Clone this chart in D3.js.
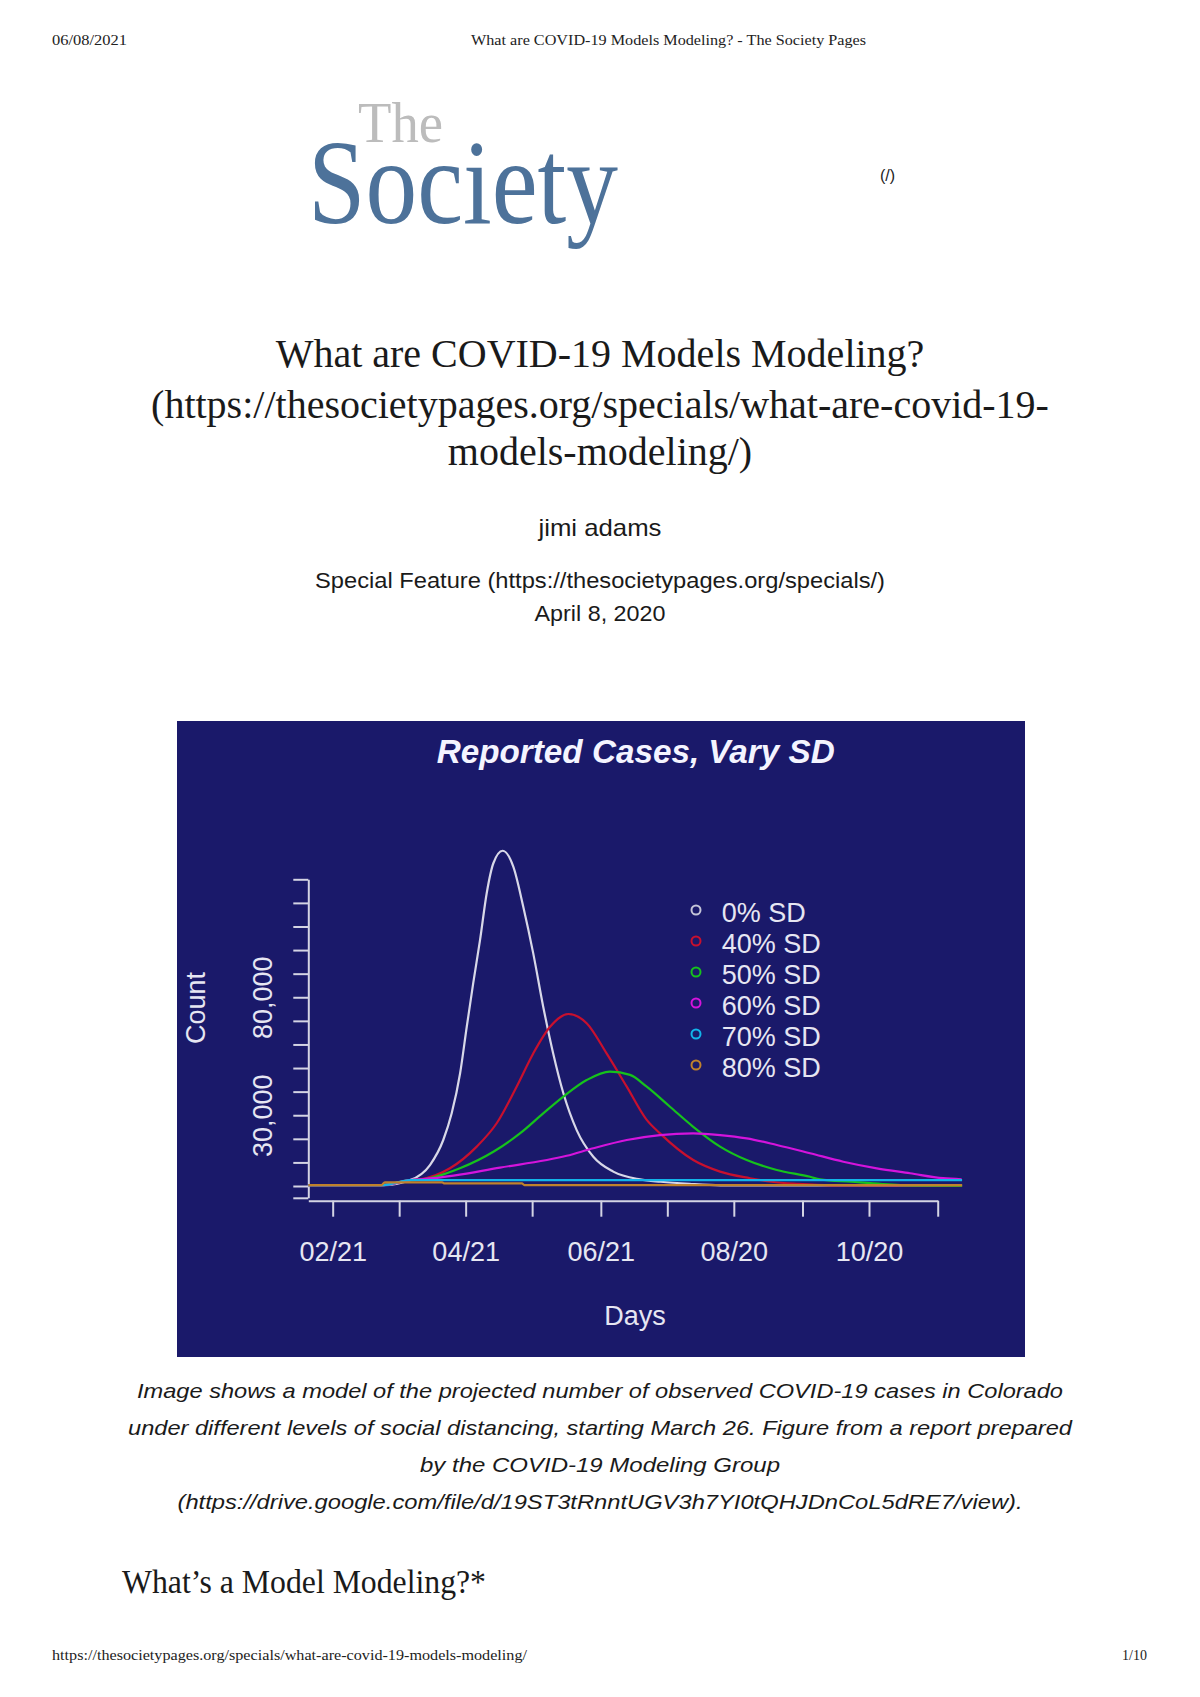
<!DOCTYPE html>
<html>
<head>
<meta charset="utf-8">
<script src="https://cdn.jsdelivr.net/npm/d3@7"></script>
<style>
	body { margin: 0; background: #ffffff; }
	svg { display: block; }
</style>
</head>
<body>
<div id="page"></div>
<script>
// days are counted from 02/21/2020, counts are reported cases
var sd0Days = [-11, 22.7, 34.9, 43.9, 49.9, 53.7, 57.5, 60.5, 63.4, 66.5, 69.5, 72.5, 76.7, 81.5, 86.0, 90.5, 95.0, 99.5, 104.1, 110.1, 117.6, 126.6, 138.7, 148, 161, 175, 284];
var sd0Counts = [400, 400, 2500, 8900, 19500, 30800, 47800, 67500, 85900, 104300, 124100, 136800, 142100, 135400, 118400, 98600, 76000, 56200, 39300, 23700, 12400, 6100, 2800, 1800, 900, 300, 200];

var sd40Days = [-11, 22.7, 34.9, 39.4, 52.9, 65.0, 74.0, 83.0, 90.5, 98.1, 106.3, 114.6, 123.6, 132.7, 141.7, 147.7, 162.7, 174.8, 188.3, 198, 210, 225, 284];
var sd40Counts = [400, 400, 2500, 2800, 7500, 16700, 26600, 42100, 56200, 67500, 72900, 69000, 56200, 42100, 28000, 22300, 11000, 6100, 3300, 1800, 900, 300, 200];

var sd50Days = [-11, 22.7, 34.9, 40.9, 57.4, 72.5, 84.5, 95.0, 104.1, 114.6, 125.1, 134.2, 141.7, 152.2, 162.7, 174.8, 186.8, 200.4, 215.4, 219.9, 234, 248, 262, 284];
var sd50Counts = [400, 400, 2500, 2800, 7500, 14500, 22300, 30800, 37900, 44900, 48500, 47100, 42100, 33600, 25100, 16700, 11000, 6800, 3900, 2800, 1800, 850, 300, 200];

var sd60Days = [-11, 22.7, 34.9, 45.4, 75.5, 105.6, 117.6, 132.7, 147.7, 162.7, 174.8, 186.8, 200.4, 215.4, 230.4, 245.5, 260.5, 275.5, 283.8];
var sd60Counts = [400, 400, 2500, 3300, 7800, 12800, 16000, 19500, 21600, 22300, 21600, 20200, 17400, 13900, 10300, 7500, 5400, 3300, 2800];

var sd70Days = [-11, 22.7, 34.9, 284];
var sd70Counts = [400, 400, 2500, 2500];

var sd80Days = [-11, 22, 23.5, 49.4, 50.5, 85.4, 86.5, 284];
var sd80Counts = [400, 400, 1500, 1500, 1100, 1100, 400, 400];

var legendLabels = ["0% SD", "40% SD", "50% SD", "60% SD", "70% SD", "80% SD"];
var lineColours = ["#d8d8e8", "#c8102e", "#16c21c", "#d414dc", "#12b4ea", "#c0822c"];

var xTickDays = [0, 30, 60, 90, 121, 151, 181, 212, 242, 273];
var xTickLabels = ["02/21", "", "04/21", "", "06/21", "", "08/20", "", "10/20", ""];
var yTickValues = [-5000, 0, 10000, 20000, 30000, 40000, 50000, 60000, 70000, 80000, 90000, 100000, 110000, 120000, 130000];
var yTickLabels = {30000: "30,000", 80000: "80,000"};

var captionLines = [
	"Image shows a model of the projected number of observed COVID-19 cases in Colorado",
	"under different levels of social distancing, starting March 26. Figure from a report prepared",
	"by the COVID-19 Modeling Group",
	"(https://drive.google.com/file/d/19ST3tRnntUGV3h7YI0tQHJDnCoL5dRE7/view)."
];
var titleLines = [
	"What are COVID-19 Models Modeling?",
	"(https://thesocietypages.org/specials/what-are-covid-19-",
	"models-modeling/)"
];

var serif = "'Liberation Serif', 'DejaVu Serif', serif";
var sans = "'Liberation Sans', Arial, sans-serif";

function createPage(){
	var svg = d3.select("#page").append("svg")
		.attr("width", 1200)
		.attr("height", 1697);

	svg.append("rect").attr("width", 1200).attr("height", 1697).attr("fill", "#ffffff");

	// print header
	svg.append("text").attr("x", 52).attr("y", 45)
		.attr("font-family", serif).attr("font-size", 15).attr("fill", "#222")
		.attr("textLength", 75).attr("lengthAdjust", "spacingAndGlyphs")
		.text("06/08/2021");
	svg.append("text").attr("x", 471).attr("y", 45)
		.attr("font-family", serif).attr("font-size", 15).attr("fill", "#222")
		.attr("textLength", 395).attr("lengthAdjust", "spacingAndGlyphs")
		.text("What are COVID-19 Models Modeling? - The Society Pages");

	// logo
	svg.append("text").attr("x", 358).attr("y", 142)
		.attr("font-family", serif).attr("font-size", 58).attr("fill", "#bcbcbc")
		.attr("textLength", 85).attr("lengthAdjust", "spacingAndGlyphs")
		.text("The");
	svg.append("text").attr("x", 308).attr("y", 223)
		.attr("font-family", serif).attr("font-size", 120).attr("fill", "#4d729a")
		.attr("textLength", 310).attr("lengthAdjust", "spacingAndGlyphs")
		.text("Society");
	svg.append("text").attr("x", 880).attr("y", 181)
		.attr("font-family", sans).attr("font-size", 16).attr("fill", "#222")
		.text("(/)");

	// article title
	var titleY = [367, 418, 465];
	titleLines.forEach(function(line, i){
		svg.append("text").attr("x", 600).attr("y", titleY[i])
			.attr("text-anchor", "middle")
			.attr("font-family", serif).attr("font-size", 40).attr("fill", "#1a1a1a")
			.text(line);
	});

	svg.append("text").attr("x", 600).attr("y", 536).attr("text-anchor", "middle")
		.attr("font-family", sans).attr("font-size", 24).attr("fill", "#1a1a1a")
		.attr("textLength", 123).attr("lengthAdjust", "spacingAndGlyphs")
		.text("jimi adams");
	svg.append("text").attr("x", 600).attr("y", 588).attr("text-anchor", "middle")
		.attr("font-family", sans).attr("font-size", 22).attr("fill", "#1a1a1a")
		.attr("textLength", 570).attr("lengthAdjust", "spacingAndGlyphs")
		.text("Special Feature (https://thesocietypages.org/specials/)");
	svg.append("text").attr("x", 600).attr("y", 621).attr("text-anchor", "middle")
		.attr("font-family", sans).attr("font-size", 22).attr("fill", "#1a1a1a")
		.attr("textLength", 131).attr("lengthAdjust", "spacingAndGlyphs")
		.text("April 8, 2020");

	createChart(svg);

	// caption
	var captionY = [1398, 1435, 1472, 1509];
	var captionW = [926, 944, 360, 845];
	captionLines.forEach(function(line, i){
		svg.append("text").attr("x", 600).attr("y", captionY[i])
			.attr("text-anchor", "middle")
			.attr("font-family", sans).attr("font-size", 21).attr("font-style", "italic")
			.attr("fill", "#1a1a1a")
			.attr("textLength", captionW[i]).attr("lengthAdjust", "spacingAndGlyphs")
			.text(line);
	});

	svg.append("text").attr("x", 122).attr("y", 1593)
		.attr("font-family", serif).attr("font-size", 33).attr("fill", "#1a1a1a")
		.attr("textLength", 364).attr("lengthAdjust", "spacingAndGlyphs")
		.text("What\u2019s a Model Modeling?*");

	// print footer
	svg.append("text").attr("x", 52).attr("y", 1660)
		.attr("font-family", serif).attr("font-size", 14).attr("fill", "#222")
		.attr("textLength", 475).attr("lengthAdjust", "spacingAndGlyphs")
		.text("https://thesocietypages.org/specials/what-are-covid-19-models-modeling/");
	svg.append("text").attr("x", 1147).attr("y", 1660).attr("text-anchor", "end")
		.attr("font-family", serif).attr("font-size", 14).attr("fill", "#222")
		.text("1/10");
}

function createChart(svg){
	var box = {left: 177, top: 721, width: 848, height: 636};
	var plot = {left: 308.3, right: 937.7, top: 879.3, bottom: 1197.8};
	var axisColour = "#d4d4e4";
	var textColour = "#e6e6f2";

	var chart = svg.append("g");
	chart.append("rect")
		.attr("x", box.left).attr("y", box.top)
		.attr("width", box.width).attr("height", box.height)
		.attr("fill", "#1a196a");

	var x = d3.scaleLinear().domain([-11, 273]).range([plot.left, plot.right]);
	var y = d3.scaleLinear().domain([-5000, 130000]).range([plot.bottom, plot.top]);

	var series = [
		{days: sd0Days, counts: sd0Counts},
		{days: sd40Days, counts: sd40Counts},
		{days: sd50Days, counts: sd50Counts},
		{days: sd60Days, counts: sd60Counts},
		{days: sd70Days, counts: sd70Counts},
		{days: sd80Days, counts: sd80Counts}
	];

	// title
	chart.append("text")
		.attr("x", 436.7).attr("y", 762.7)
		.attr("font-family", sans).attr("font-size", 33)
		.attr("font-weight", "bold").attr("font-style", "italic")
		.attr("fill", "#f4f4ff")
		.attr("textLength", 398).attr("lengthAdjust", "spacingAndGlyphs")
		.text("Reported Cases, Vary SD");

	// x axis
	var xAxis = chart.append("g")
		.attr("transform", "translate(0," + 1200.7 + ")")
		.call(d3.axisBottom(x)
			.tickValues(xTickDays)
			.tickSize(16)
			.tickSizeOuter(0)
			.tickPadding(25)
			.tickFormat(function(d, i){ return xTickLabels[i]; }));
	// y axis
	var yAxis = chart.append("g")
		.attr("transform", "translate(" + plot.left + ",0)")
		.call(d3.axisLeft(y)
			.tickValues(yTickValues)
			.tickSize(15)
			.tickSizeOuter(0)
			.tickFormat(function(d){ return yTickLabels[d] || ""; }));

	[xAxis, yAxis].forEach(function(g){
		g.select(".domain").attr("stroke", axisColour).attr("stroke-width", 2);
		g.selectAll(".tick line").attr("stroke", axisColour).attr("stroke-width", 2);
		g.selectAll(".tick text")
			.attr("fill", textColour)
			.attr("font-family", sans)
			.attr("font-size", 27);
	});

	yAxis.selectAll(".tick text")
		.attr("transform", "rotate(-90)")
		.attr("x", 0)
		.attr("y", -36)
		.attr("dy", null)
		.attr("text-anchor", "middle");

	// axis titles
	chart.append("text")
		.attr("x", 635).attr("y", 1325)
		.attr("text-anchor", "middle")
		.attr("font-family", sans).attr("font-size", 27).attr("fill", textColour)
		.text("Days");
	chart.append("text")
		.attr("transform", "translate(205," + 1008 + ") rotate(-90)")
		.attr("text-anchor", "middle")
		.attr("font-family", sans).attr("font-size", 27).attr("fill", textColour)
		.text("Count");

	// lines
	var valueLine = d3.line()
		.x(function(d){ return x(d[0]); })
		.y(function(d){ return y(d[1]); })
		.curve(d3.curveMonotoneX);

	series.forEach(function(s, i){
		var pts = s.days.map(function(d, j){ return [d, s.counts[j]]; });
		chart.append("path")
			.datum(pts)
			.attr("d", valueLine)
			.attr("fill", "none")
			.attr("stroke", lineColours[i])
			.attr("stroke-width", 2.2);
	});

	// legend
	var legend = chart.append("g").attr("transform", "translate(696,910)");
	legendLabels.forEach(function(label, i){
		legend.append("circle")
			.attr("cx", 0).attr("cy", i * 31)
			.attr("r", 4.5)
			.attr("fill", "none")
			.attr("stroke", i == 0 ? "#c4c4d8" : lineColours[i])
			.attr("stroke-width", 2);
		legend.append("text")
			.attr("x", 25.7).attr("y", i * 31 + 11.7)
			.attr("font-family", sans).attr("font-size", 27).attr("fill", textColour)
			.text(label);
	});
}

createPage();
</script>
</body>
</html>
